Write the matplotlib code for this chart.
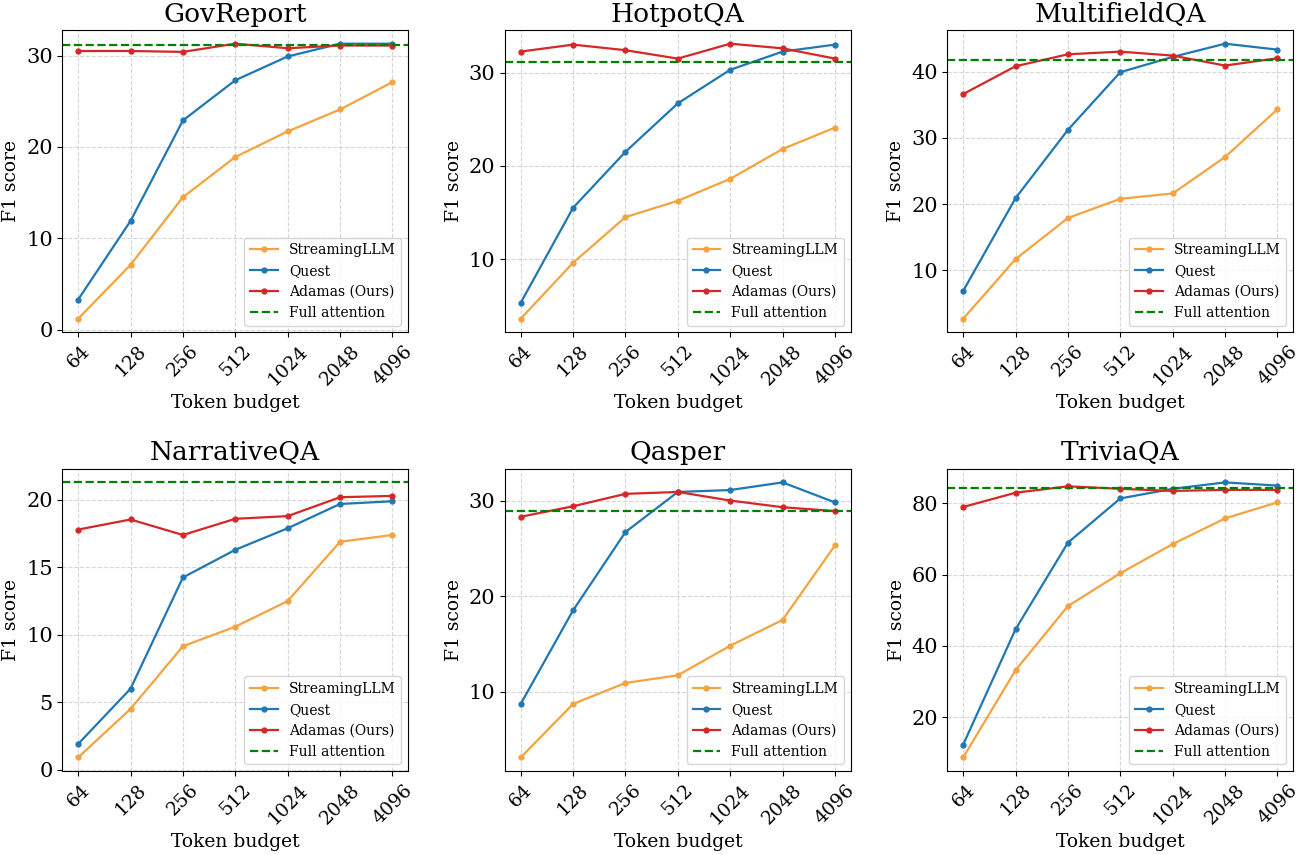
import matplotlib
matplotlib.use("Agg")
import matplotlib.pyplot as plt
from matplotlib.ticker import MaxNLocator

budgets = ["64", "128", "256", "512", "1024", "2048", "4096"]
tasks = ["GovReport", "HotpotQA", "MultifieldQA", "NarrativeQA", "Qasper", "TriviaQA"]

streaming = {
    "GovReport":    [1.2, 7.1, 14.5, 18.9, 21.7, 24.1, 27.1],
    "HotpotQA":     [3.6, 9.6, 14.5, 16.25, 18.6, 21.8, 24.1],
    "MultifieldQA": [2.7, 11.7, 17.9, 20.8, 21.6, 27.1, 34.3],
    "NarrativeQA":  [0.9, 4.5, 9.15, 10.6, 12.5, 16.9, 17.4],
    "Qasper":       [3.1, 8.7, 10.9, 11.7, 14.8, 17.5, 25.3],
    "TriviaQA":     [8.7, 33.2, 51.2, 60.4, 68.6, 75.8, 80.3],
}
quest = {
    "GovReport":    [3.3, 11.9, 22.9, 27.3, 29.9, 31.3, 31.3],
    "HotpotQA":     [5.3, 15.5, 21.5, 26.7, 30.3, 32.25, 33.0],
    "MultifieldQA": [6.9, 20.9, 31.2, 39.9, 42.2, 44.2, 43.3],
    "NarrativeQA":  [1.9, 6.0, 14.25, 16.3, 17.9, 19.7, 19.9],
    "Qasper":       [8.7, 18.5, 26.7, 30.9, 31.1, 31.9, 29.8],
    "TriviaQA":     [12.3, 44.7, 69.0, 81.4, 84.1, 85.9, 85.0],
}
adamas = {
    "GovReport":    [30.5, 30.5, 30.4, 31.3, 30.8, 31.1, 31.1],
    "HotpotQA":     [32.25, 33.0, 32.4, 31.5, 33.1, 32.6, 31.5],
    "MultifieldQA": [36.6, 40.8, 42.6, 43.0, 42.4, 40.9, 42.0],
    "NarrativeQA":  [17.8, 18.55, 17.4, 18.6, 18.8, 20.2, 20.3],
    "Qasper":       [28.3, 29.4, 30.7, 30.9, 30.0, 29.3, 28.9],
    "TriviaQA":     [79.0, 83.0, 84.8, 84.1, 83.5, 83.8, 83.8],
}
full_attention = {
    "GovReport": 31.2, "HotpotQA": 31.1, "MultifieldQA": 41.7,
    "NarrativeQA": 21.3, "Qasper": 28.9, "TriviaQA": 84.2,
}

plt.rcParams["font.family"] = "DejaVu Serif"

fig, axes = plt.subplots(2, 3, figsize=(13.01, 8.55), dpi=100)
x = list(range(len(budgets)))

for ax, task in zip(axes.flat, tasks):
    ax.plot(x, streaming[task], marker="o", markersize=3.5, lw=1.6,
            color="#f4a340", label="StreamingLLM")
    ax.plot(x, quest[task], marker="o", markersize=3.5, lw=1.6,
            color="#1f77b4", label="Quest")
    ax.plot(x, adamas[task], marker="o", markersize=3.5, lw=1.6,
            color="#d62728", label="Adamas (Ours)")
    ax.axhline(full_attention[task], color="green", ls="--", lw=1.6,
               label="Full attention")
    ax.set_title(task, fontsize=19)
    ax.set_xticks(x)
    ax.set_xticklabels(budgets, rotation=45, fontsize=13.5)
    ax.yaxis.set_major_locator(MaxNLocator(nbins=5, steps=[1, 2, 2.5, 5, 10]))
    ax.tick_params(axis="y", labelsize=15)
    ax.set_xlabel("Token budget", fontsize=13.5)
    ax.set_ylabel("F1 score", fontsize=13.5)
    ax.grid(True, ls="--", color="#cccccc", lw=0.8, alpha=0.8)
    ax.legend(loc="lower right", fontsize=10)

plt.subplots_adjust(left=0.048, right=0.994, top=0.965, bottom=0.098,
                    wspace=0.28, hspace=0.45)
plt.savefig("out.png")
plt.close()
